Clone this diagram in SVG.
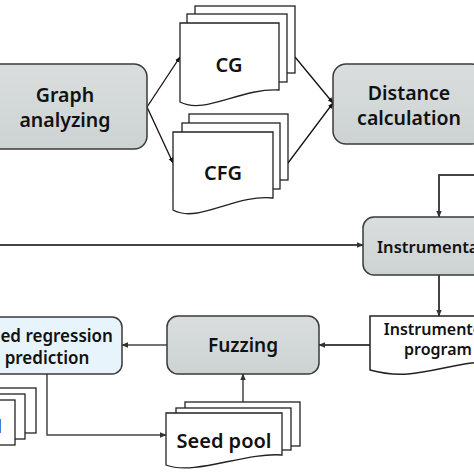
<svg xmlns="http://www.w3.org/2000/svg" width="474" height="474" viewBox="0 0 474 474">
<defs>
<linearGradient id="gray" x1="0" y1="0" x2="0" y2="1">
<stop offset="0" stop-color="#d9dddd"/>
<stop offset="1" stop-color="#cdd3d3"/>
</linearGradient>
<marker id="ah" viewBox="0 0 10 10" refX="9" refY="5" markerWidth="6" markerHeight="6" orient="auto" markerUnits="userSpaceOnUse">
<path d="M0,1 L10,5 L0,9 Z" fill="#111"/>
</marker>
<marker id="ah2" viewBox="0 0 10 10" refX="9" refY="5" markerWidth="7" markerHeight="7" orient="auto" markerUnits="userSpaceOnUse">
<path d="M0,1 L10,5 L0,9 Z" fill="#333"/>
</marker>
</defs>
<style>
.box{fill:url(#gray);stroke:#3a3a3a;stroke-width:1.5}
.blue{fill:#e7f4fb;stroke:#3a3a3a;stroke-width:1.5}
.doc{fill:#fff;stroke:#222;stroke-width:1.3}
.t{font-family:"Noto Sans","Open Sans","Liberation Sans",sans-serif;font-weight:600;fill:#111}
.c1{fill:none;stroke:#111;stroke-width:1.3}
.c2{fill:none;stroke:#444;stroke-width:2}
.c3{fill:none;stroke:#444;stroke-width:1.5}
</style>
<rect width="474" height="474" fill="#fff"/>

<g id="connectors">
<path class="c1" d="M147,107 L180,57" marker-end="url(#ah)"/>
<path class="c1" d="M147,107 L173,163" marker-end="url(#ah)"/>
<path class="c1" d="M295,57 L333,103" marker-end="url(#ah)"/>
<path class="c1" d="M288,163 L333,103" marker-end="url(#ah)"/>
<path class="c2" d="M480,175 H439 V217" marker-end="url(#ah2)"/>
<path class="c2" d="M0,245 H363" marker-end="url(#ah2)"/>
<path class="c2" d="M439,275 V316" marker-end="url(#ah2)"/>
<path class="c2" d="M370,345 H319" marker-end="url(#ah2)"/>
<path class="c3" d="M167,345 H122" marker-end="url(#ah2)"/>
<path class="c3" d="M47,374 V435 H166" marker-end="url(#ah2)"/>
<path class="c3" d="M243,402 V374" marker-end="url(#ah2)"/>
</g>

<g id="graph-analyzing">
<rect class="box" x="-30" y="64" width="177" height="85" rx="13"/>
<text class="t" x="65" y="102" font-size="19.5" text-anchor="middle">Graph</text>
<text class="t" x="65" y="127" font-size="19.5" text-anchor="middle">analyzing</text>
</g>

<g id="cg">
<rect class="doc" x="195" y="6" width="100" height="67"/>
<rect class="doc" x="187" y="14" width="100" height="68"/>
<path class="doc" d="M180,23 H279 V90 C240,88 205,115 180,102 Z"/>
<text class="t" x="229" y="72" font-size="20" text-anchor="middle">CG</text>
</g>

<g id="cfg">
<rect class="doc" x="189" y="114" width="99" height="66"/>
<rect class="doc" x="182" y="123" width="98" height="66"/>
<path class="doc" d="M173,132 H273 V198 C235,194 198,224 173,210 Z"/>
<text class="t" x="223" y="180" font-size="20" text-anchor="middle">CFG</text>
</g>

<g id="distance-calculation">
<rect class="box" x="333" y="64" width="152" height="80" rx="13"/>
<text class="t" x="409" y="100" font-size="19.5" text-anchor="middle">Distance</text>
<text class="t" x="409" y="125" font-size="19.5" text-anchor="middle">calculation</text>
</g>

<g id="instrumentation">
<rect class="box" x="363" y="217" width="140" height="58" rx="11"/>
<text class="t" x="377" y="253" font-size="16.5">Instrumentation</text>
</g>

<g id="instrumented-program">
<path class="doc" d="M370,316 H505 V362 C450,358 420,384 370,370 Z" style="stroke-width:1.5"/>
<text class="t" x="438" y="335" font-size="16" text-anchor="middle">Instrumented</text>
<text class="t" x="438" y="355" font-size="16" text-anchor="middle">program</text>
</g>

<g id="fuzzing">
<rect class="box" x="167" y="316" width="152" height="58" rx="11"/>
<text class="t" x="243" y="352" font-size="19" text-anchor="middle">Fuzzing</text>
</g>

<g id="seed-regression-prediction">
<rect class="blue" x="-28" y="317" width="150" height="57" rx="10"/>
<text class="t" x="47" y="342" font-size="17" text-anchor="middle">Seed regression</text>
<text class="t" x="47" y="364" font-size="17" text-anchor="middle">prediction</text>
</g>

<g id="seed-pool">
<rect class="doc" x="185" y="402" width="115" height="44"/>
<rect class="doc" x="176" y="408" width="115" height="42"/>
<path class="doc" d="M166,413 H282 V455 C245,452 195,476 166,465 Z"/>
<text class="t" x="224" y="448" font-size="20" text-anchor="middle">Seed pool</text>
</g>

<g id="left-stack">
<rect class="doc" x="-80" y="388" width="116" height="45"/>
<rect class="doc" x="-80" y="394" width="105" height="45"/>
<rect class="doc" x="-80" y="400" width="95" height="45"/>
<text class="t" x="-3" y="433" font-size="17" font-weight="700">l</text>
</g>
</svg>
